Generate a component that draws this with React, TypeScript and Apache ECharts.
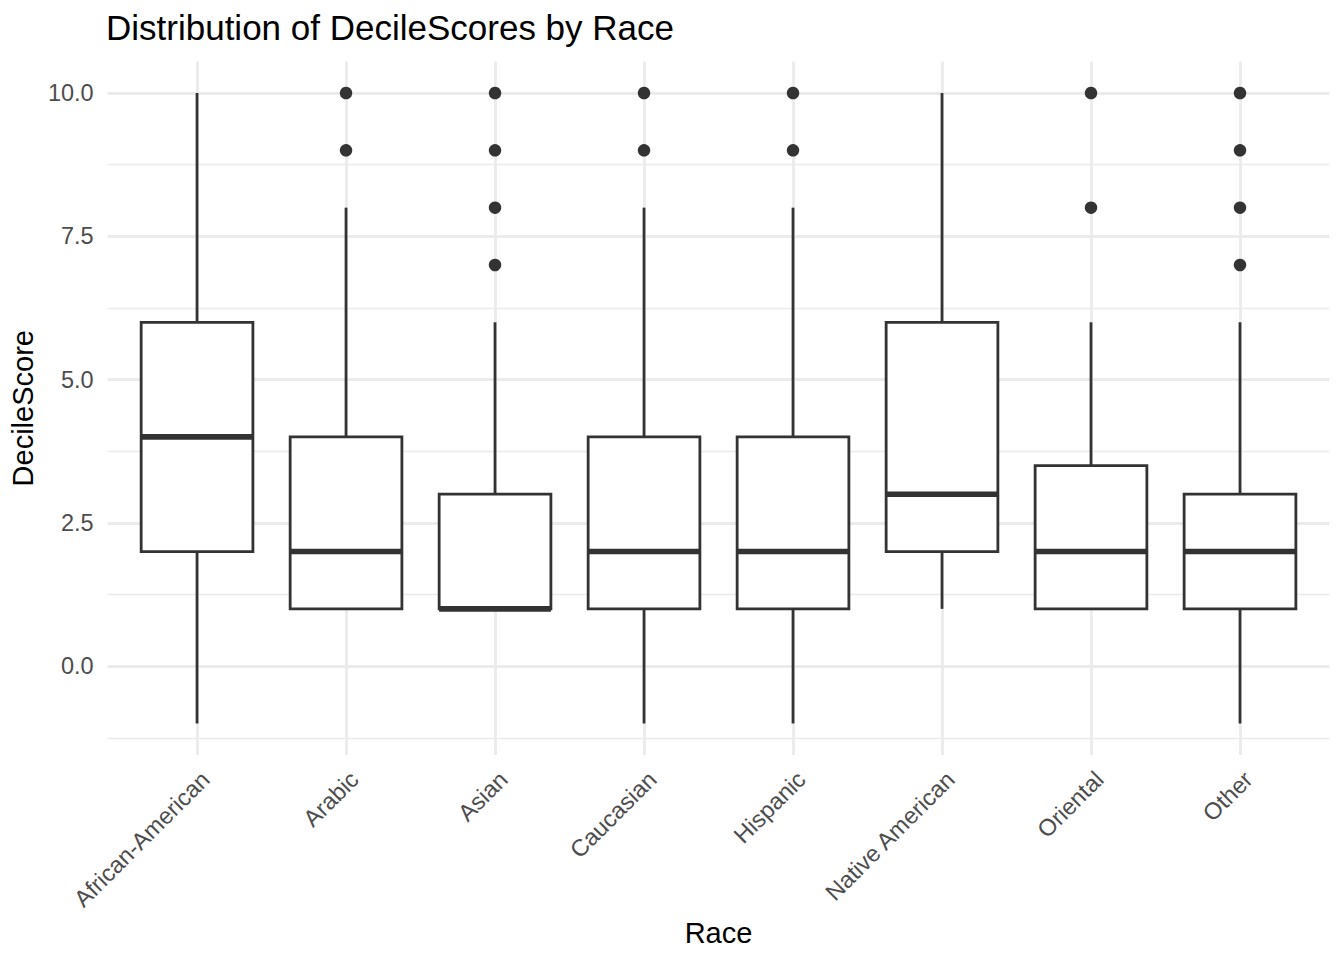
import React, { useEffect, useRef } from "react";
import * as echarts from "echarts";

const categories = [
  "African-American",
  "Arabic",
  "Asian",
  "Caucasian",
  "Hispanic",
  "Native American",
  "Oriental",
  "Other",
];
const lowerWhisker = [-1, 1, 1, -1, -1, 1, 1, -1];
const q1 = [2, 1, 1, 1, 1, 2, 1, 1];
const median = [4, 2, 1, 2, 2, 3, 2, 2];
const q3 = [6, 4, 3, 4, 4, 6, 3.5, 3];
const upperWhisker = [10, 8, 6, 8, 8, 10, 6, 6];
const outliers: number[][] = [
  [],
  [9, 10],
  [7, 8, 9, 10],
  [9, 10],
  [9, 10],
  [],
  [8, 10],
  [7, 8, 9, 10],
];

const FONT = "'Liberation Sans', Arial, Helvetica, sans-serif";
const INK = "#333333";

export default function App() {
  const ref = useRef<HTMLDivElement>(null);

  useEffect(() => {
    if (!ref.current) return;
    const chart = echarts.init(ref.current, undefined, { renderer: "svg" });

    const boxData = categories.map((_, i) => [
      i,
      lowerWhisker[i],
      q1[i],
      median[i],
      q3[i],
      upperWhisker[i],
    ]);
    const outlierData: number[][] = [];
    outliers.forEach((vals, i) => vals.forEach((v) => outlierData.push([i, v])));

    const option: any = {
      animation: false,
      backgroundColor: "#ffffff",
      title: {
        text: "Distribution of DecileScores by Race",
        left: 106,
        top: 10,
        padding: 0,
        textStyle: {
          fontFamily: FONT,
          fontSize: 35,
          fontWeight: "normal",
          color: "#000000",
        },
      },
      grid: {
        left: 107.6,
        right: 14.6,
        top: 61.5,
        bottom: 205,
        containLabel: false,
      },
      xAxis: {
        type: "value",
        min: -0.6,
        max: 7.6,
        minInterval: 1,
        maxInterval: 1,
        name: "Race",
        nameLocation: "middle",
        nameGap: 152,
        nameTextStyle: { fontFamily: FONT, fontSize: 29, color: "#000000" },
        axisLine: { show: false },
        axisTick: { show: false },
        axisLabel: {
          rotate: 45,
          align: "right",
          verticalAlign: "top",
          margin: 12,
          fontFamily: FONT,
          fontSize: 23.5,
          color: "#4D4D4D",
          showMinLabel: false,
          showMaxLabel: false,
          formatter: (v: number) => {
            const i = Math.round(v);
            return Math.abs(v - i) < 1e-6 && categories[i] !== undefined ? categories[i] : "";
          },
        },
        splitLine: {
          show: true,
          showMinLine: false,
          showMaxLine: false,
          lineStyle: { color: "#EBEBEB", width: 2.8 },
        },
      },
      yAxis: {
        type: "value",
        min: -1.55,
        max: 10.55,
        minInterval: 2.5,
        maxInterval: 2.5,
        name: "DecileScore",
        nameLocation: "middle",
        nameGap: 66,
        nameTextStyle: { fontFamily: FONT, fontSize: 29, color: "#000000" },
        axisLine: { show: false },
        axisTick: { show: false },
        axisLabel: {
          margin: 14,
          fontFamily: FONT,
          fontSize: 23.5,
          color: "#4D4D4D",
          showMinLabel: false,
          showMaxLabel: false,
          formatter: (v: number) => v.toFixed(1),
        },
        splitLine: {
          show: true,
          showMinLine: false,
          showMaxLine: false,
          lineStyle: { color: "#EBEBEB", width: 2.8 },
        },
        minorTick: { show: false, splitNumber: 2 },
        minorSplitLine: {
          show: true,
          lineStyle: { color: "#EBEBEB", width: 1.4 },
        },
      },
      series: [
        {
          type: "custom",
          silent: true,
          clip: false,
          encode: { x: 0, y: [1, 2, 3, 4, 5] },
          data: boxData,
          renderItem: (params: any, api: any) => {
            const i = api.value(0);
            const bw = api.size([0.75, 0])[0];
            const pLow = api.coord([i, api.value(1)]);
            const pQ1 = api.coord([i, api.value(2)]);
            const pMed = api.coord([i, api.value(3)]);
            const pQ3 = api.coord([i, api.value(4)]);
            const pHigh = api.coord([i, api.value(5)]);
            const cx = pLow[0];
            const lineStyle = { stroke: INK, lineWidth: 2.8, fill: null };
            return {
              type: "group",
              children: [
                {
                  type: "line",
                  shape: { x1: cx, y1: pLow[1], x2: cx, y2: pQ1[1] },
                  style: lineStyle,
                },
                {
                  type: "line",
                  shape: { x1: cx, y1: pQ3[1], x2: cx, y2: pHigh[1] },
                  style: lineStyle,
                },
                {
                  type: "rect",
                  shape: {
                    x: cx - bw / 2,
                    y: pQ3[1],
                    width: bw,
                    height: pQ1[1] - pQ3[1],
                  },
                  style: { fill: "#ffffff", stroke: INK, lineWidth: 2.8 },
                },
                {
                  type: "line",
                  shape: {
                    x1: cx - bw / 2,
                    y1: pMed[1],
                    x2: cx + bw / 2,
                    y2: pMed[1],
                  },
                  style: { stroke: INK, lineWidth: 5.6 },
                },
              ],
            };
          },
        },
        {
          type: "scatter",
          silent: true,
          data: outlierData,
          symbol: "circle",
          symbolSize: 12.5,
          itemStyle: { color: INK, opacity: 1 },
        },
      ],
    };

    chart.setOption(option);
    return () => chart.dispose();
  }, []);

  return (
    <div
      ref={ref}
      style={{
        position: "fixed",
        left: 0,
        top: 0,
        width: 1344,
        height: 960,
        background: "#ffffff",
      }}
    />
  );
}
